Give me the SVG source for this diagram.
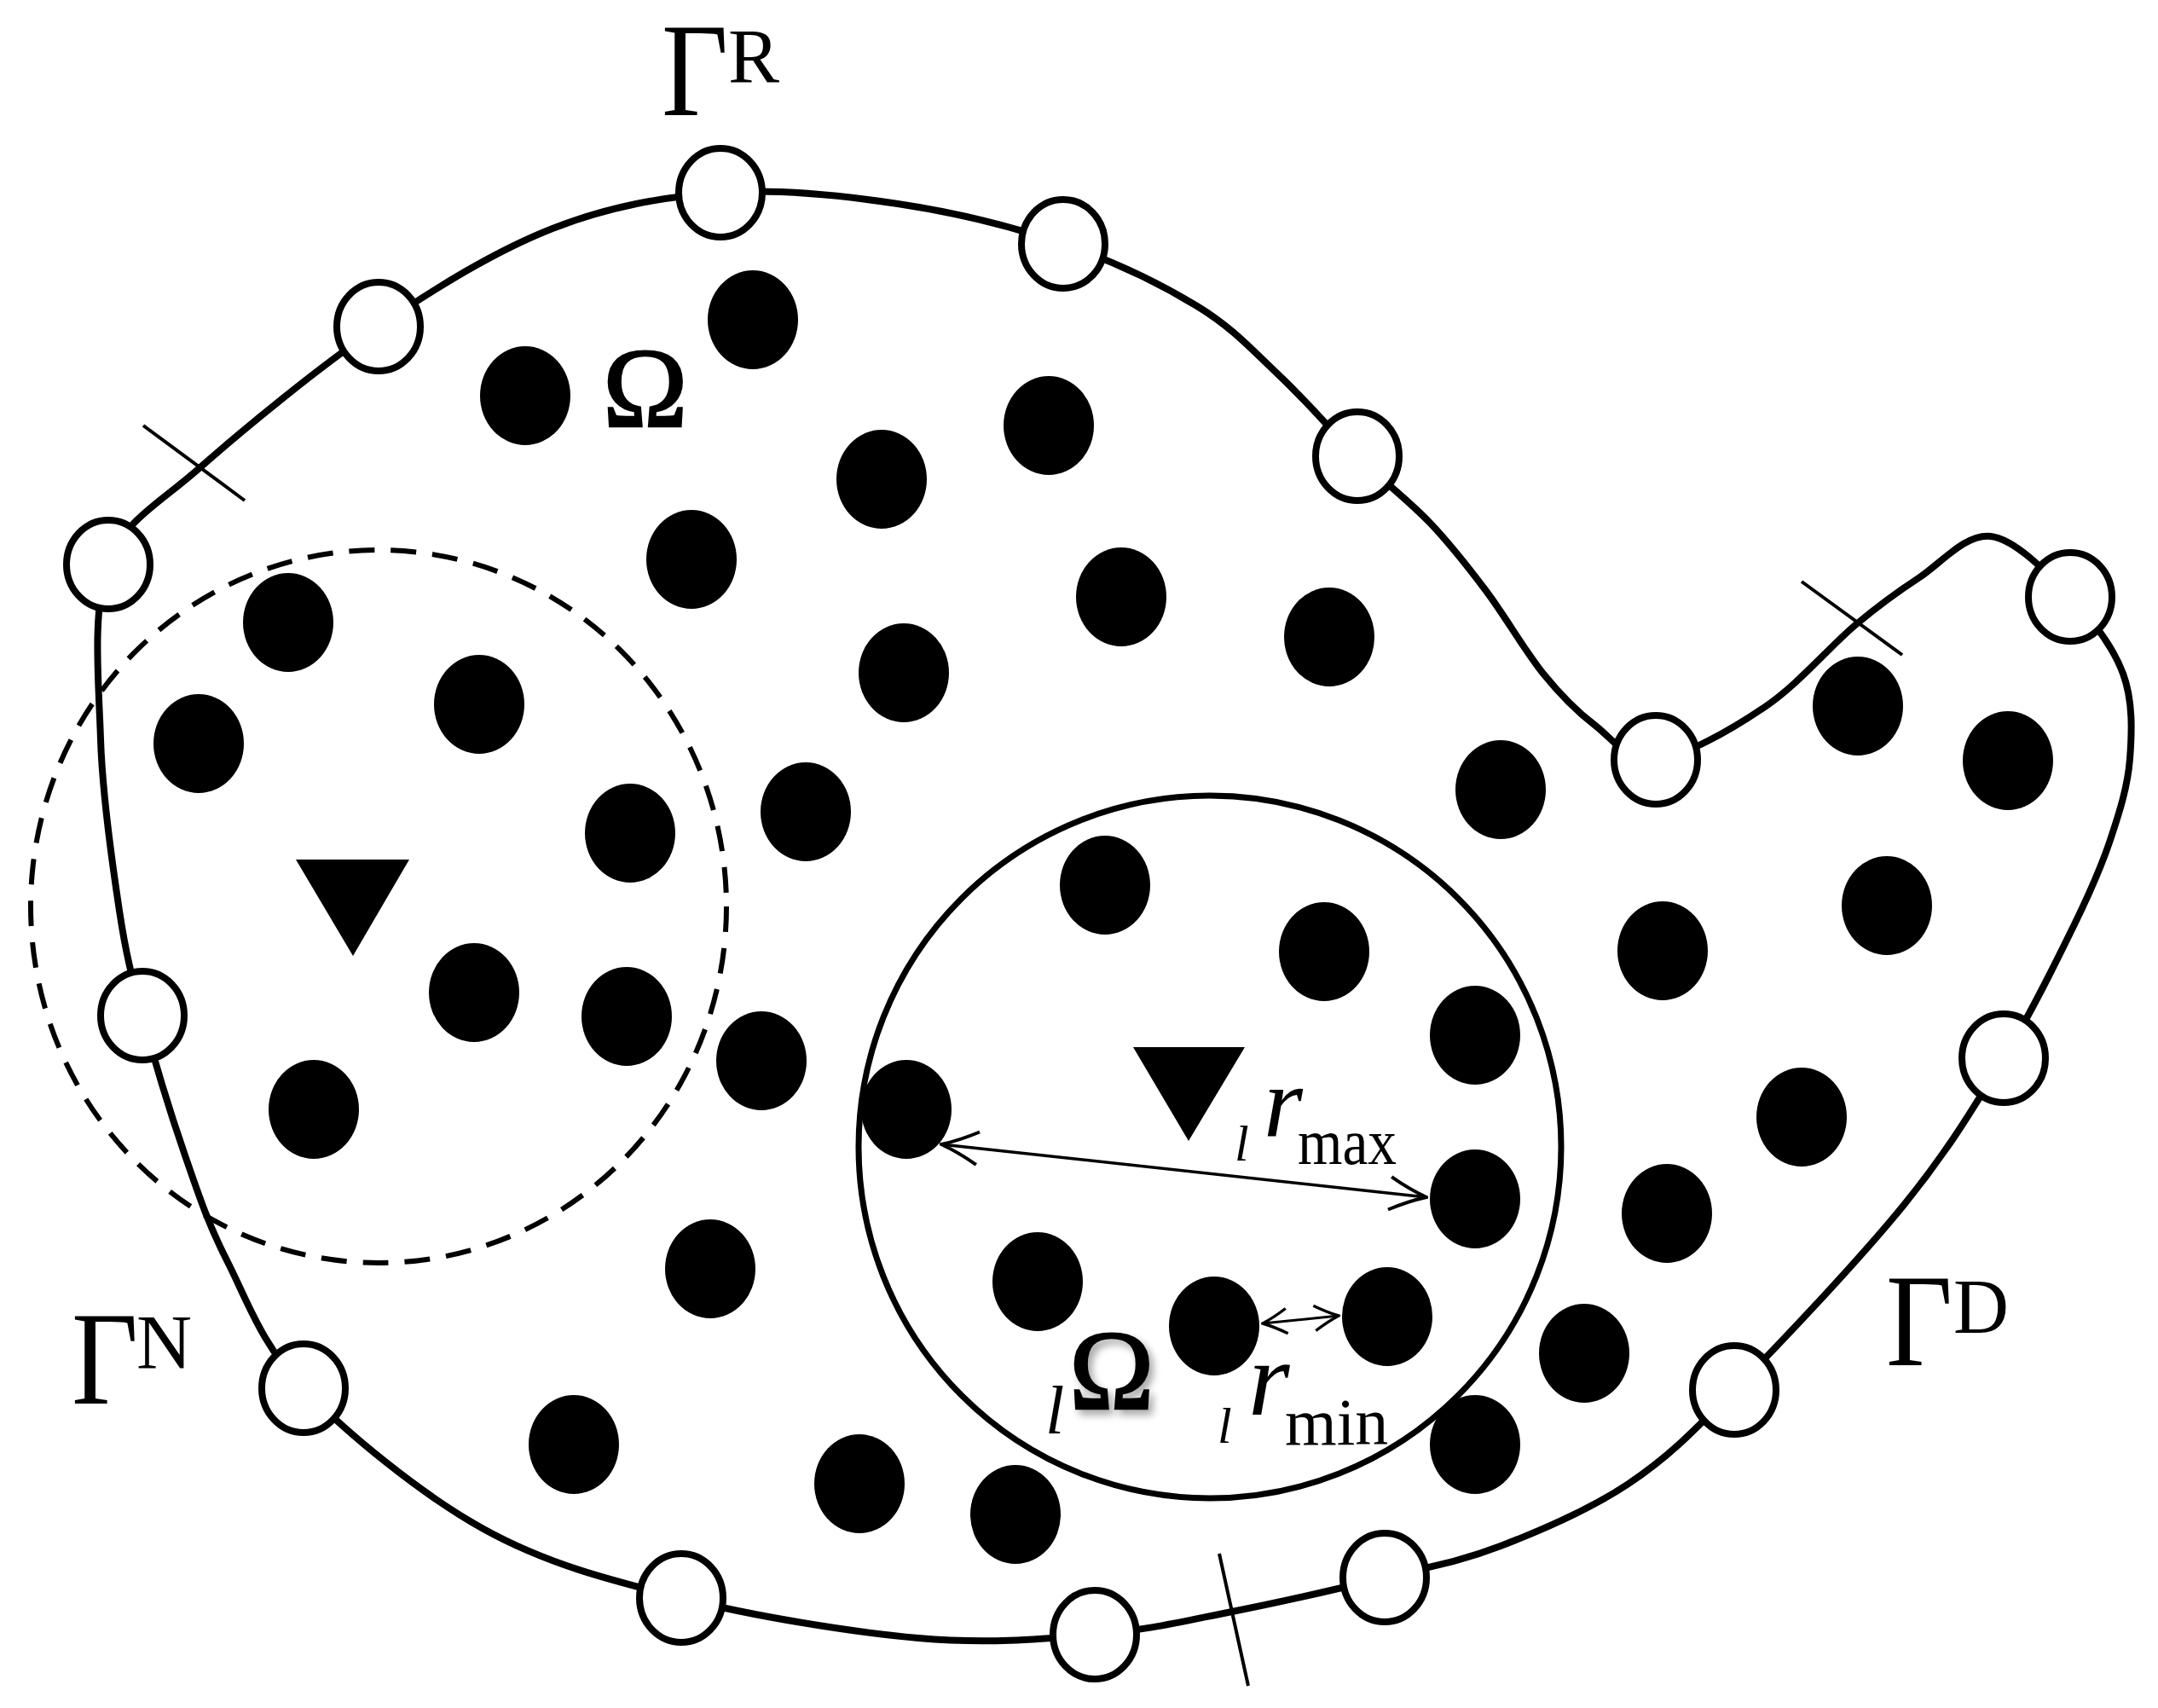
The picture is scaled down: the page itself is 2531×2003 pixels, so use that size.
<svg xmlns="http://www.w3.org/2000/svg" width="2531" height="2003" viewBox="0 0 2531 2003">
<style>
.bd{fill:none;stroke:#000;stroke-width:8;stroke-linejoin:round}
.nd{fill:#fff;stroke:#000;stroke-width:8}
.pt{fill:#000}
.tk{stroke:#000;stroke-width:4;fill:none}
.t{font-family:"Liberation Serif","Times New Roman",serif;fill:#000}
.it{font-style:italic}
.om{stroke:#000;stroke-width:2.5}
</style>
<defs>
<marker id="ah" markerUnits="userSpaceOnUse" markerWidth="50" markerHeight="50" viewBox="0 0 44 40" refX="42" refY="20" orient="auto-start-reverse"><path d="M4,3 Q24,14 42,20 Q24,26 4,37" fill="none" stroke="#000" stroke-width="3.5"/></marker>
<marker id="ahs" markerUnits="userSpaceOnUse" markerWidth="34" markerHeight="34" viewBox="0 0 30 30" refX="28" refY="15" orient="auto-start-reverse"><path d="M3,2 Q16,10 28,15 Q16,20 3,28" fill="none" stroke="#000" stroke-width="3"/></marker>
<filter id="sh" x="-30%" y="-30%" width="160%" height="160%"><feGaussianBlur in="SourceAlpha" stdDeviation="5"/><feOffset dx="5" dy="6" result="b"/><feComponentTransfer><feFuncA type="linear" slope="0.35"/></feComponentTransfer><feMerge><feMergeNode/><feMergeNode in="SourceGraphic"/></feMerge></filter>
</defs>
<rect width="2531" height="2003" fill="#fff"/>
<g id="boundary">
<path class="bd" d="M127,662 C146.5,608.8 182.2,594.5 235,548 C287.8,501.5 375.2,429.7 444,383 C512.8,336.3 581.2,294.2 648,268 C714.8,241.8 777.5,230.8 845,226 C912.5,221.2 986,229 1053,239 C1120,249 1188.5,266 1247,286 C1305.5,306 1361.8,333.3 1404,359 C1446.2,384.7 1468.7,410.7 1500,440 C1531.3,469.3 1562.5,506.2 1592,535 C1621.5,563.8 1651.8,586.7 1677,613 C1702.2,639.3 1720.8,663.5 1743,693 C1765.2,722.5 1788.8,763.8 1810,790 C1831.2,816.2 1848,833.2 1870,850 C1892,866.8 1908.7,894.5 1942,891 C1975.3,887.5 2031,855.3 2070,829 C2109,802.7 2146,758.2 2176,733 C2206,707.8 2223.5,695.3 2250,678 C2276.5,660.7 2305.3,625.3 2335,629 C2364.7,632.7 2402.2,673.2 2428,700 C2453.8,726.8 2478.3,758.3 2490,790 C2501.7,821.7 2500.5,857.5 2498,890 C2495.5,922.5 2485.8,952.7 2475,985 C2464.2,1017.3 2453.8,1041.3 2433,1084 C2412.2,1126.7 2383.3,1186.2 2350,1241 C2316.7,1295.8 2285.7,1348.2 2233,1413 C2180.3,1477.8 2087.8,1575.5 2034,1630 C1980.2,1684.5 1955.7,1709.5 1910,1740 C1864.3,1770.5 1807.7,1794.7 1760,1813 C1712.3,1831.3 1676.5,1837.2 1624,1850 C1571.5,1862.8 1501.7,1878.8 1445,1890 C1388.3,1901.2 1345.3,1911.8 1284,1917 C1222.7,1922.2 1157.8,1928.2 1077,1921 C996.2,1913.8 884,1895.3 799,1874 C714,1852.7 640.8,1834 567,1793 C493.2,1752 406,1680.2 356,1628 C306,1575.8 290.2,1525.5 267,1480 C243.8,1434.5 233.7,1403.2 217,1355 C200.3,1306.8 179.8,1238.8 167,1191 C154.2,1143.2 148.2,1122 140,1068 C131.8,1014 120.2,934.7 118,867 C115.8,799.3 107.5,715.2 127,662 Z"/>
</g>
<g id="ticks">
<line class="tk" x1="168" y1="499" x2="287" y2="587"/>
<line class="tk" x1="2113" y1="682" x2="2231" y2="768"/>
<line class="tk" x1="1430" y1="1822" x2="1464" y2="1977"/>
</g>
<g id="support-domain">
<ellipse cx="444" cy="1063" rx="408" ry="418" fill="none" stroke="#000" stroke-width="6" stroke-dasharray="30 19"/>
</g>
<g id="local-domain">
<circle cx="1419" cy="1345" r="412" fill="none" stroke="#000" stroke-width="7"/>
</g>
<g id="boundary-nodes">
<ellipse class="nd" cx="127" cy="662" rx="49" ry="52"/>
<ellipse class="nd" cx="444" cy="383" rx="49" ry="52"/>
<ellipse class="nd" cx="845" cy="226" rx="49" ry="52"/>
<ellipse class="nd" cx="1247" cy="286" rx="49" ry="52"/>
<ellipse class="nd" cx="1592" cy="535" rx="49" ry="52"/>
<ellipse class="nd" cx="1942" cy="891" rx="49" ry="52"/>
<ellipse class="nd" cx="2428" cy="700" rx="49" ry="52"/>
<ellipse class="nd" cx="2350" cy="1241" rx="49" ry="52"/>
<ellipse class="nd" cx="2034" cy="1630" rx="49" ry="52"/>
<ellipse class="nd" cx="1624" cy="1850" rx="49" ry="52"/>
<ellipse class="nd" cx="1284" cy="1917" rx="49" ry="52"/>
<ellipse class="nd" cx="799" cy="1874" rx="49" ry="52"/>
<ellipse class="nd" cx="356" cy="1628" rx="49" ry="52"/>
<ellipse class="nd" cx="167" cy="1191" rx="49" ry="52"/>
</g>
<g id="interior-nodes">
<ellipse class="pt" cx="883" cy="375" rx="53" ry="58"/>
<ellipse class="pt" cx="616" cy="464" rx="53" ry="58"/>
<ellipse class="pt" cx="1230" cy="499" rx="53" ry="58"/>
<ellipse class="pt" cx="1034" cy="562" rx="53" ry="58"/>
<ellipse class="pt" cx="811" cy="656" rx="53" ry="58"/>
<ellipse class="pt" cx="1315" cy="700" rx="53" ry="58"/>
<ellipse class="pt" cx="1559" cy="747" rx="53" ry="58"/>
<ellipse class="pt" cx="338" cy="730" rx="53" ry="58"/>
<ellipse class="pt" cx="562" cy="826" rx="53" ry="58"/>
<ellipse class="pt" cx="1060" cy="789" rx="53" ry="58"/>
<ellipse class="pt" cx="233" cy="872" rx="53" ry="58"/>
<ellipse class="pt" cx="739" cy="977" rx="53" ry="58"/>
<ellipse class="pt" cx="945" cy="952" rx="53" ry="58"/>
<ellipse class="pt" cx="1760" cy="926" rx="53" ry="58"/>
<ellipse class="pt" cx="2179" cy="828" rx="53" ry="58"/>
<ellipse class="pt" cx="2355" cy="892" rx="53" ry="58"/>
<ellipse class="pt" cx="1296" cy="1038" rx="53" ry="58"/>
<ellipse class="pt" cx="1553" cy="1116" rx="53" ry="58"/>
<ellipse class="pt" cx="1950" cy="1115" rx="53" ry="58"/>
<ellipse class="pt" cx="2213" cy="1062" rx="53" ry="58"/>
<ellipse class="pt" cx="556" cy="1164" rx="53" ry="58"/>
<ellipse class="pt" cx="735" cy="1192" rx="53" ry="58"/>
<ellipse class="pt" cx="893" cy="1244" rx="53" ry="58"/>
<ellipse class="pt" cx="1730" cy="1214" rx="53" ry="58"/>
<ellipse class="pt" cx="368" cy="1301" rx="53" ry="58"/>
<ellipse class="pt" cx="1063" cy="1301" rx="53" ry="58"/>
<ellipse class="pt" cx="2113" cy="1310" rx="53" ry="58"/>
<ellipse class="pt" cx="1730" cy="1406" rx="53" ry="58"/>
<ellipse class="pt" cx="1955" cy="1423" rx="53" ry="58"/>
<ellipse class="pt" cx="833" cy="1488" rx="53" ry="58"/>
<ellipse class="pt" cx="1217" cy="1503" rx="53" ry="58"/>
<ellipse class="pt" cx="1424" cy="1555" rx="53" ry="58"/>
<ellipse class="pt" cx="1627" cy="1544" rx="53" ry="58"/>
<ellipse class="pt" cx="1858" cy="1587" rx="53" ry="58"/>
<ellipse class="pt" cx="673" cy="1694" rx="53" ry="58"/>
<ellipse class="pt" cx="1008" cy="1740" rx="53" ry="58"/>
<ellipse class="pt" cx="1730" cy="1694" rx="53" ry="58"/>
<ellipse class="pt" cx="1191" cy="1776" rx="53" ry="58"/>
</g>
<g id="evaluation-points">
<polygon points="347,1008 480,1008 414,1121" fill="#000"/>
<polygon points="1329,1228 1460,1228 1394,1338" fill="#000"/>
</g>
<g id="connectors">
<line x1="1104" y1="1342" x2="1673" y2="1404" stroke="#000" stroke-width="3.5" marker-start="url(#ah)" marker-end="url(#ah)"/>
<line x1="1481" y1="1552" x2="1570" y2="1543" stroke="#000" stroke-width="3" marker-start="url(#ahs)" marker-end="url(#ahs)"/>
</g>
<g id="labels">
<text class="t" transform="translate(776,135) scale(1,1.16)" font-size="135">Γ</text>
<text class="t" x="854" y="97" font-size="90">R</text>
<text class="t om" x="707" y="500" font-size="134">Ω</text>
<text class="t" transform="translate(84,1646) scale(1,1.16)" font-size="135">Γ</text>
<text class="t" x="160" y="1605" font-size="90">N</text>
<text class="t" transform="translate(2212,1601) scale(1,1.14)" font-size="135">Γ</text>
<text class="t" x="2291" y="1563" font-size="90">D</text>
<text class="t it" x="1448" y="1361" font-size="60">l</text>
<text class="t it" x="1482" y="1333" font-size="118">r</text>
<text class="t" x="1522" y="1365" font-size="76" textLength="116" lengthAdjust="spacingAndGlyphs">max</text>
<text class="t it" x="1226" y="1681" font-size="80">l</text>
<text class="t om" x="1254" y="1652" font-size="134" filter="url(#sh)">Ω</text>
<text class="t it" x="1428" y="1692" font-size="60">l</text>
<text class="t it" x="1464" y="1659" font-size="125">r</text>
<text class="t" x="1507" y="1694" font-size="78">min</text>
</g>
</svg>
